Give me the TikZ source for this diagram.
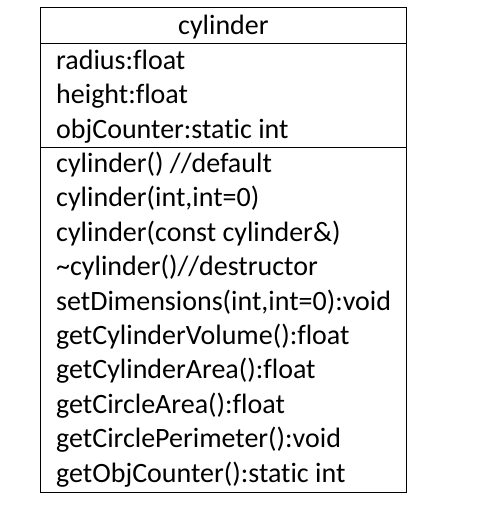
\documentclass[tikz,border=0pt]{standalone}
\usepackage{fontspec}
\setmainfont[Ligatures={NoCommon}]{Carlito}
\begin{document}
\begin{tikzpicture}[x=1pt,y=-1pt,
  member/.style={anchor=base west,inner sep=0pt,font=\fontsize{28}{33}\selectfont},
  title/.style={anchor=base,inner sep=0pt,font=\fontsize{28}{33}\selectfont},
  rule/.style={line width=1.3pt}]
\useasboundingbox (0,0) rectangle (484,521);
\coordinate (tl) at (40.5,7.3);
\coordinate (tr) at (406.3,7.3);
\coordinate (bl) at (40.5,492.3);
\coordinate (br) at (406.3,492.3);
\coordinate (s1l) at (40.5,43.3);
\coordinate (s1r) at (406.3,43.3);
\coordinate (s2l) at (40.5,147.3);
\coordinate (s2r) at (406.3,147.3);
\draw[rule] (tl) -- (tr) -- (br) -- (bl) -- cycle;
\draw[rule] (s1l) -- (s1r);
\draw[rule] (s2l) -- (s2r);
\node[title] (t) at (223.4,34.5) {cylinder};
\node[member] (a1) at (56,69.5) {radius:float};
\node[member] (a2) at (56,104) {height:float};
\node[member] (a3) at (56,138.5) {objCounter:static int};
\node[member] (m1) at (56,172.5) {cylinder() //default};
\node[member] (m2) at (56,207) {cylinder(int,int=0)};
\node[member] (m3) at (56,241.3) {cylinder(const cylinder\&)};
\node[member] (m4) at (56,275.7) {\char`~cylinder()//destructor};
\node[member] (m5) at (56,310) {setDimensions(int,int=0):void};
\node[member] (m6) at (56,344.5) {getCylinderVolume():float};
\node[member] (m7) at (56,378.9) {getCylinderArea():float};
\node[member] (m8) at (56,413.3) {getCircleArea():float};
\node[member] (m9) at (56,447.7) {getCirclePerimeter():void};
\node[member] (m10) at (56,482) {getObjCounter():static int};
\end{tikzpicture}
\end{document}
